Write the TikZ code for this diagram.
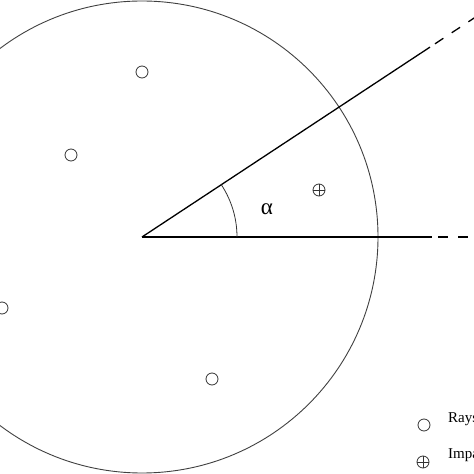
\documentclass[tikz,border=0pt]{standalone}
\usepackage{fontspec}
\setmainfont{Liberation Serif}
\usetikzlibrary{calc}
\begin{document}
\begin{tikzpicture}[x=1pt,y=1pt,
  ray/.style={line width=1.3pt,black},
  raydash/.style={line width=1.3pt,black,dash pattern=on 10pt off 10pt},
  smallc/.style={circle,draw=black!80,line width=0.8pt,minimum size=12pt,inner sep=0pt},
  crossc/.style={smallc,path picture={\draw[black!80,line width=0.8pt]
     (path picture bounding box.north) -- (path picture bounding box.south)
     (path picture bounding box.west) -- (path picture bounding box.east);}},
  legtext/.style={anchor=base west,inner sep=0pt,font=\fontsize{15}{17}\selectfont}]
\useasboundingbox (0,0) rectangle (474,474);
\coordinate (O) at (142,237);
\node[circle,draw=black!75,line width=0.9pt,minimum size=472pt,inner sep=0pt] (disc) at (O) {};
% horizontal ray
\coordinate (H1) at (432,237);
\coordinate (H2) at (438,237);
\coordinate (H3) at (485,237);
\draw[ray] (O) -- (H1);
\draw[raydash] (H2) -- (H3);
% slanted ray
\coordinate (S1) at ($(O)+(33.4:345)$);
\coordinate (S2) at ($(O)+(33.4:351)$);
\coordinate (S3) at ($(O)+(33.4:410)$);
\draw[ray] (O) -- (S1);
\draw[raydash] (S2) -- (S3);
% angle arc
\coordinate (R0) at ($(O)+(0:95)$);
\draw[black!80,line width=0.8pt] (R0) arc[start angle=0,end angle=33.4,radius=95];
\node[font=\fontsize{23}{25}\selectfont] (alpha) at (267,265) {α};
% points
\node[smallc] (p1) at (142,402) {};
\node[smallc] (p2) at (71,319) {};
\node[smallc] (p3) at (2,166) {};
\node[smallc] (p4) at (212,95) {};
\node[crossc] (x1) at (319,284) {};
% legend
\node[smallc] (l1) at (424,49) {};
\node[crossc] (l2) at (423,12) {};
\node[legtext] (t1) at (448,51) {Rays};
\node[legtext] (t2) at (448,16) {Impact};
\end{tikzpicture}
\end{document}
